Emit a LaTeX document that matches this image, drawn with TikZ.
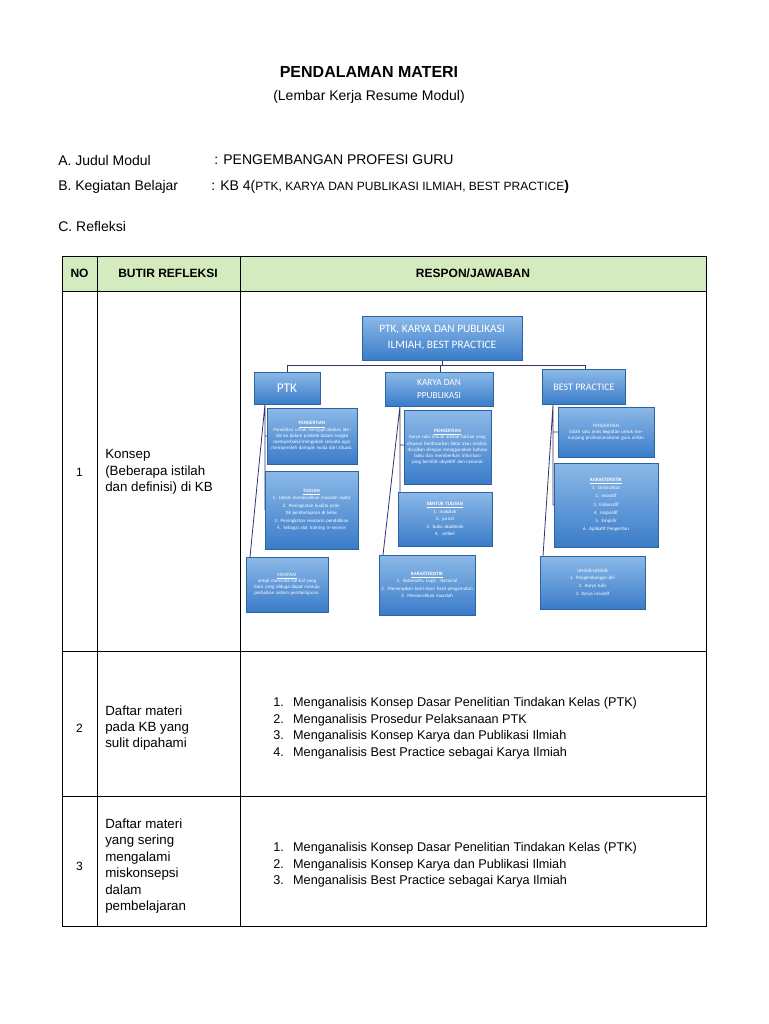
\documentclass[tikz,border=0pt]{standalone}
\usepackage{fontspec}
\setmainfont{Liberation Sans}
\newfontfamily\calfont{Carlito}
\definecolor{btop}{HTML}{8CB9E8}
\definecolor{bbot}{HTML}{3A7CC9}
\begin{document}
\begin{tikzpicture}[x=0.75pt,y=-0.75pt,
  txt/.style={anchor=west,inner sep=0,font=\fontsize{10.5}{12.6}\selectfont},
  bx/.style={draw=bbot!80!black,line width=0.3pt,top color=btop,bottom color=bbot,
     align=center,inner sep=1pt,text=white,font=\calfont\fontsize{3.7}{4.6}\selectfont},
  hb/.style={bx,font=\calfont\fontsize{7}{9}\selectfont},
  cn/.style={draw=blue!30!black!80,line width=0.6pt}]
\useasboundingbox (0,0) rectangle (768,1024);
\fill[white] (0,0) rectangle (768,1024);
\node[font=\bfseries\fontsize{12}{14}\selectfont] (t1) at (369,72) {PENDALAMAN MATERI};
\node[font=\fontsize{10.5}{12}\selectfont] (t2) at (369,97) {(Lembar Kerja Resume Modul)};
\node[txt] (a) at (58,160) {A. Judul Modul};
\node[txt] (a2) at (214,160) {: PENGEMBANGAN PROFESI GURU};
\node[txt] (b) at (58,187) {B. Kegiatan Belajar};
\node[txt] (b2) at (211,187) {: KB 4(\fontsize{9}{10}\selectfont PTK, KARYA DAN PUBLIKASI ILMIAH, BEST PRACTICE\fontsize{10.5}{12}\selectfont\textbf{)}};
\node[txt] (c) at (58,226) {C. Refleksi};
% table
\fill[green!35!olive!25!white] (62,256) rectangle (706,291);
\draw[line width=0.6pt] (62,256) rectangle (706,926);
\foreach \y in {291,651,796} \draw[line width=0.6pt] (62,\y) -- (706,\y);
\foreach \x in {97,240} \draw[line width=0.6pt] (\x,256) -- (\x,926);
\node[font=\bfseries\fontsize{9}{10}\selectfont] (h1) at (79.5,273) {NO};
\node[font=\bfseries\fontsize{9}{10}\selectfont] (h2) at (168,273) {BUTIR REFLEKSI};
\node[font=\bfseries\fontsize{9}{10}\selectfont] (h3) at (473,273) {RESPON/JAWABAN};
\node[font=\fontsize{9}{10}\selectfont] (n1) at (79.5,472) {1};
\node[font=\fontsize{9}{10}\selectfont] (n2) at (79.5,728) {2};
\node[font=\fontsize{9}{10}\selectfont] (n3) at (79.5,866) {3};
\node[txt,align=left,font=\fontsize{10}{12.3}\selectfont] (k1) at (105,472) {Konsep\\(Beberapa istilah\\dan definisi) di KB};
\node[txt,align=left,font=\fontsize{10}{12.3}\selectfont] (k2) at (105,728) {Daftar materi\\pada KB yang\\sulit dipahami};
\node[txt,align=left,font=\fontsize{10}{12.3}\selectfont] (k3) at (105,866) {Daftar materi\\yang sering\\mengalami\\miskonsepsi\\dalam\\pembelajaran};
\foreach \i/\s [count=\k] in {1/Menganalisis Konsep Dasar Penelitian Tindakan Kelas (PTK),2/Menganalisis Prosedur Pelaksanaan PTK,3/Menganalisis Konsep Karya dan Publikasi Ilmiah,4/Menganalisis Best Practice sebagai Karya Ilmiah}
  \node[txt,font=\fontsize{9.5}{11}\selectfont] (r2\k) at (273,687+16.5*\k) {\i.\hspace{7pt}\s};
\foreach \i/\s [count=\k] in {1/Menganalisis Konsep Dasar Penelitian Tindakan Kelas (PTK),2/Menganalisis Konsep Karya dan Publikasi Ilmiah,3/Menganalisis Best Practice sebagai Karya Ilmiah}
  \node[txt,font=\fontsize{9.5}{11}\selectfont] (r3\k) at (273,832+16.5*\k) {\i.\hspace{7pt}\s};
% mind map
\draw[cn] (442,360) -- (442,365) (287,365) -- (585,365) (287,365) -- (287,372) (440,365)--(440,372) (585,365)--(585,370);
\draw[cn] (265,404) -- (265,510) (265,436) -- (267,436) (265,510) -- (267,510) (265,404) -- (250,557);
\draw[cn] (400,406) -- (400,520) (400,445) -- (404,445) (400,520) -- (398,520) (400,406) -- (383,555);
\draw[cn] (553,405) -- (553,505) (553,432) -- (558,432) (553,505) -- (554,505) (553,405) -- (543,556);
\node[hb,minimum width=0.75*160pt,minimum height=0.75*44pt,font=\calfont\fontsize{8.5}{12}\selectfont] (top) at (442,338) {PTK, KARYA DAN PUBLIKASI\\ILMIAH, BEST PRACTICE};
\node[hb,minimum width=0.75*66pt,minimum height=0.75*32pt,font=\calfont\fontsize{10}{11}\selectfont] (ptk) at (287,388) {PTK};
\node[hb,minimum width=0.75*108pt,minimum height=0.75*34pt,font=\calfont\fontsize{7}{10}\selectfont] (kar) at (439,389) {KARYA DAN\\PPUBLIKASI};
\node[hb,minimum width=0.75*83pt,minimum height=0.75*35pt,font=\calfont\fontsize{7.5}{9}\selectfont] (bp) at (584,387) {BEST PRACTICE};
\node[bx,minimum width=0.75*90pt,minimum height=0.75*56pt,text width=0.75*86pt] (p1) at (312,436) {\underline{\textbf{PENGERTIAN}}\\Penelitian untuk mengujicobakan ide-ide ke dalam praktek dalam rangka memperbaiki/mengubah sesuatu agar memperoleh dampak nyata dari situasi.};
\node[bx,minimum width=0.75*93pt,minimum height=0.75*78pt,text width=0.75*89pt,font=\calfont\fontsize{3.7}{5.6}\selectfont] (p2) at (311.5,510) {\underline{\textbf{TUJUAN}}\\1. Untuk memecahkan masalah nyata\\2. Peningkatan kualita praktik pembelajaran di kelas\\3. Peningkatan revalansi pendidikan\\4. Sebagai alat training in-service};
\node[bx,minimum width=0.75*82pt,minimum height=0.75*55pt,text width=0.75*78pt] (p3) at (287,584.5) {\underline{MANFAAT}\\untuk mencoba hal-hal yang baru yang diduga dapat menuju perbaikan sistem pembelajaran.};
\node[bx,minimum width=0.75*87pt,minimum height=0.75*74pt,text width=0.75*83pt] (k1b) at (447.5,447) {\underline{\textbf{PENGERTIAN}}\\Karya tulis ilmiah adalah tulisan yang disusun berdasarkan fakta atau analisa, disajikan dengan menggunakan bahasa baku dan memberikan informasi yang bersifat obyektif dan rasional.};
\node[bx,minimum width=0.75*94pt,minimum height=0.75*54pt,text width=0.75*90pt,font=\calfont\fontsize{3.7}{5.6}\selectfont] (k2b) at (445,519) {\underline{\textbf{BENTUK TULISAN}}\\1. makalah\\2. jurnal\\3. buku akademik\\4.\ \ artikel};
\node[bx,minimum width=0.75*96pt,minimum height=0.75*60pt,text width=0.75*92pt,font=\calfont\fontsize{3.7}{5.6}\selectfont] (k3b) at (427,585) {\underline{\textbf{KARAKTERISTIK}}\\1. Sistematis, Logis , Rasional\\2. Menerapkan teori-teori hasil pengamatan\\3. Memecahkan masalah};
\node[bx,minimum width=0.75*96pt,minimum height=0.75*50pt,text width=0.75*88pt] (b1) at (606,432) {PENGERTIAN\\Salah satu jenis kegiatan untuk menunjang professionalisme guru ertian};
\node[bx,minimum width=0.75*104pt,minimum height=0.75*84pt,text width=0.75*100pt,font=\calfont\fontsize{3.7}{6.2}\selectfont] (b2) at (606,505) {\underline{\textbf{KARAKTERISTIK}}\\1. Orisinalitas\\2. Inovatif\\3. Elaboratif\\4. Inspiratif\\5. Empirik\\6. Aplikatif Pengertian};
\node[bx,minimum width=0.75*105pt,minimum height=0.75*53pt,text width=0.75*101pt,font=\calfont\fontsize{3.7}{5.8}\selectfont] (b3) at (592.5,582.5) {UNSUR-UNSUR\\1. Pengembangan diri\\2. Karya tulis\\3. Karya inovatif};
\end{tikzpicture}
\end{document}
